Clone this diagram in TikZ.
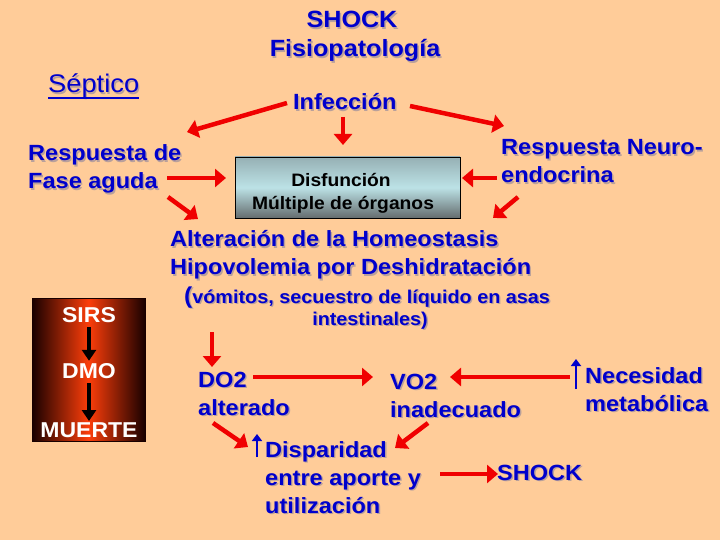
\documentclass[tikz,border=0pt]{standalone}
\usepackage{fontspec}
\setmainfont{Liberation Sans}[FakeStretch=1.07]
\usetikzlibrary{arrows.meta}
\definecolor{bgc}{RGB}{255,204,153}
\definecolor{tblue}{RGB}{0,0,204}
\definecolor{ared}{RGB}{240,0,0}
\definecolor{shadowc}{RGB}{185,160,155}
\definecolor{boxtop}{RGB}{150,176,180}
\definecolor{boxmid}{RGB}{188,226,230}
\definecolor{boxbot}{RGB}{100,108,110}
\definecolor{sedge}{RGB}{25,0,0}
\definecolor{smid}{RGB}{252,62,10}
\newcommand\sh[1]{\leavevmode\rlap{\kern1.4pt\raisebox{-1.4pt}{\textcolor{shadowc}{#1}}}#1}
\newcommand\llines[1]{\begin{tabular}[t]{@{}l@{}}#1\end{tabular}}
\tikzset{
  txt/.style={font=\fontsize{22}{28}\selectfont\bfseries, text=tblue, inner sep=0pt, anchor=base west},
  ttl/.style={font=\fontsize{23.5}{28}\selectfont\bfseries, text=tblue, inner sep=0pt, anchor=base},
  smalltxt/.style={font=\fontsize{18.5}{22}\selectfont\bfseries, text=tblue, inner sep=0pt, anchor=base west},
  boxtxt/.style={font=\fontsize{18}{23}\selectfont\bfseries, text=black, inner sep=0pt, anchor=base},
  wtxt/.style={font=\fontsize{21.5}{28}\selectfont\bfseries, text=white, inner sep=0pt, anchor=base},
  arr/.style={draw=ared, line width=4.5pt, -{Triangle[length=11pt,width=18pt]}},
  barr/.style={draw=black, line width=4.5pt, -{Triangle[length=11pt,width=14pt]}},
  uarr/.style={draw=tblue, line width=2.6pt, -{Triangle[length=7pt,width=10pt]}},
}
\begin{document}
\begin{tikzpicture}[x=1pt,y=-1pt]
\fill[bgc] (0,0) rectangle (720,540);
\useasboundingbox (0,0) rectangle (720,540);

% title
\node[ttl] (t1) at (352,28) {\sh{SHOCK}};
\node[ttl] (t2) at (355,57) {\sh{Fisiopatología}};

% Septico
\node[font=\fontsize{25.5}{28}\selectfont, text=tblue, inner sep=0pt, anchor=base west] (sep) at (48,93) {\sh{Séptico}};
\draw[tblue, line width=1.8pt] ([yshift=-5pt]sep.base west) -- ([yshift=-5pt]sep.base east);

% top part
\node[txt] (inf) at (293,110) {\sh{Infección}};
\node[txt] (fase) at (28,161) {\llines{\sh{Respuesta de}\\\sh{Fase aguda}}};
\node[txt] (neuro) at (501,155) {\llines{\sh{Respuesta Neuro-}\\\sh{endocrina}}};

\node[draw=black, line width=0.8pt, top color=boxtop, bottom color=boxbot, middle color=boxmid,
      minimum width=225pt, minimum height=61pt, inner sep=0pt] (dys) at (347.5,187.5) {};
\node[boxtxt] (dys1) at (341,187) {Disfunción};
\node[boxtxt] (dys2) at (343,210) {Múltiple de órganos};

\node[txt] (alt) at (170,247) {\llines{\sh{Alteración de la Homeostasis}\\\sh{Hipovolemia por Deshidratación}}};
\node[smalltxt] (vom) at (184,303) {\sh{{\fontsize{23}{28}\selectfont(}vómitos, secuestro de líquido en asas}};
\node[smalltxt, anchor=base] (intes) at (370,325) {\sh{intestinales)}};

% left box
\node[draw=sedge, line width=0.6pt, minimum width=113pt, minimum height=143pt, inner sep=0pt,
      left color=sedge, right color=sedge, middle color=smid] (sbox) at (88.5,369.5) {};
\node[wtxt] (sirs) at (89,322) {SIRS};
\node[wtxt] (dmo) at (89,378) {DMO};
\node[wtxt] (muerte) at (89,437) {MUERTE};
\draw[barr, shorten <=5pt, shorten >=2pt] (sirs) -- (dmo);
\draw[barr, shorten <=5pt, shorten >=1pt] (dmo) -- (muerte);

% bottom part
\node[txt] (do2) at (198,387) {\llines{\sh{DO2}\\\sh{alterado}}};
\node[txt] (vo2) at (390,389) {\llines{\sh{VO2}\\\sh{inadecuado}}};
\node[txt] (nec) at (585,383) {\llines{\sh{Necesidad}\\\sh{metabólica}}};
\node[txt] (disp) at (265,457) {\llines{\sh{Disparidad}\\\sh{entre aporte y}\\\sh{utilización}}};
\node[txt] (shock) at (497,480) {\sh{SHOCK}};

% connector end points
\coordinate (a1s) at (287,103); \coordinate (a1e) at (187,132);
\coordinate (a2s) at (343,117); \coordinate (a2e) at (343,145);
\coordinate (a3s) at (410,106); \coordinate (a3e) at (504,126);
\coordinate (a4s) at (167,178); \coordinate (a4e) at (226,178);
\coordinate (a5s) at (168,197); \coordinate (a5e) at (198,219);
\coordinate (a6s) at (497,178); \coordinate (a6e) at (462,178);
\coordinate (a7s) at (518,197); \coordinate (a7e) at (493,218);
\coordinate (a8s) at (212,332); \coordinate (a8e) at (212,367);
\coordinate (a9s) at (253,377); \coordinate (a9e) at (373,377);
\coordinate (a10s) at (570,377); \coordinate (a10e) at (450,377);
\coordinate (a11s) at (428,423); \coordinate (a11e) at (395,448);
\coordinate (a12s) at (213,423); \coordinate (a12e) at (248,447);
\coordinate (a13s) at (440,474); \coordinate (a13e) at (498,474);
\coordinate (u1s) at (576,389); \coordinate (u1e) at (576,359);
\coordinate (u2s) at (257,457); \coordinate (u2e) at (257,434);

\draw[arr] (a1s) -- (a1e);
\draw[arr] (a2s) -- (a2e);
\draw[arr] (a3s) -- (a3e);
\draw[arr] (a4s) -- (a4e);
\draw[arr] (a5s) -- (a5e);
\draw[arr] (a6s) -- (a6e);
\draw[arr] (a7s) -- (a7e);
\draw[arr] (a8s) -- (a8e);
\draw[arr] (a9s) -- (a9e);
\draw[arr] (a10s) -- (a10e);
\draw[arr] (a11s) -- (a11e);
\draw[arr] (a12s) -- (a12e);
\draw[arr] (a13s) -- (a13e);
\draw[uarr] (u1s) -- (u1e);
\draw[uarr] (u2s) -- (u2e);
\end{tikzpicture}
\end{document}
